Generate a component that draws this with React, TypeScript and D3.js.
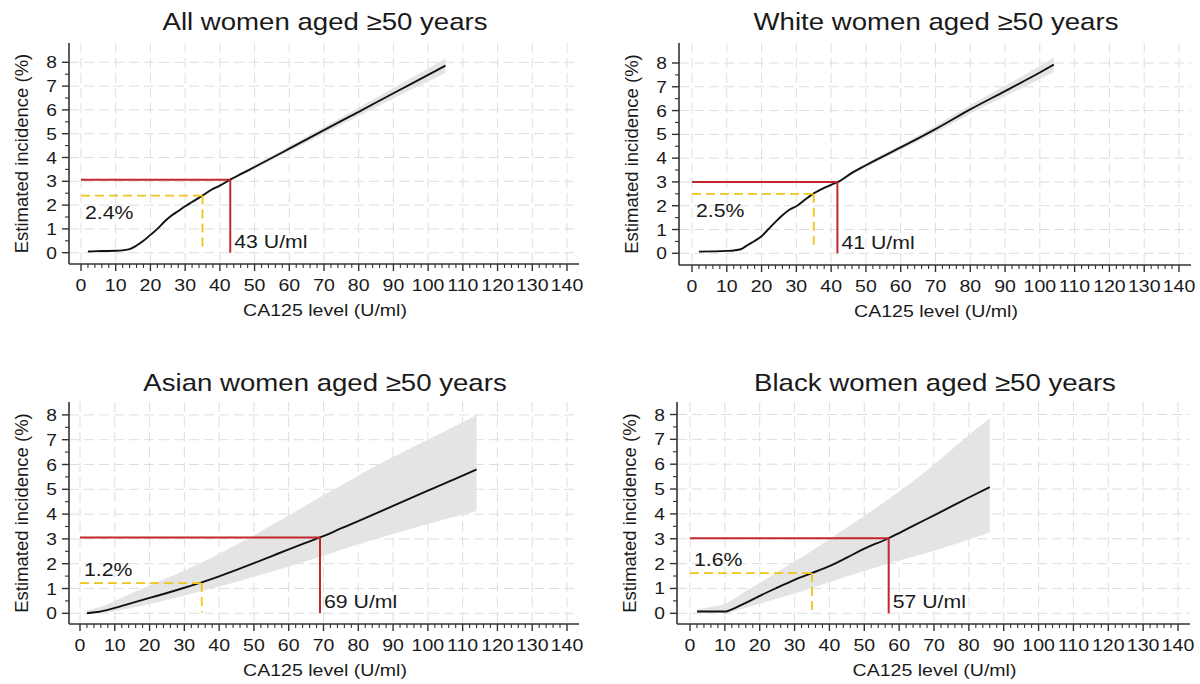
import React from 'react';
import * as d3 from 'd3';

// ---------- DATA ----------
const titles = [
  'All women aged ≥50 years',
  'White women aged ≥50 years',
  'Asian women aged ≥50 years',
  'Black women aged ≥50 years',
];
const xLabel = 'CA125 level (U/ml)';
const yLabel = 'Estimated incidence (%)';
const xTicks = [0, 10, 20, 30, 40, 50, 60, 70, 80, 90, 100, 110, 120, 130, 140];
const yTicks = [0, 1, 2, 3, 4, 5, 6, 7, 8];

// All women
const allX = [2, 6, 10, 12, 14, 16, 18, 20, 22, 24, 26, 28, 30, 32, 35, 38, 40, 43, 46, 50, 60, 70, 80, 90, 100, 105];
const allEst = [0.05, 0.07, 0.08, 0.1, 0.15, 0.3, 0.5, 0.75, 1.0, 1.3, 1.55, 1.75, 1.95, 2.13, 2.4, 2.68, 2.82, 3.07, 3.3, 3.6, 4.37, 5.15, 5.92, 6.7, 7.47, 7.86];
const allLower = [0.03, 0.05, 0.06, 0.08, 0.13, 0.28, 0.47, 0.71, 0.96, 1.26, 1.51, 1.71, 1.91, 2.09, 2.35, 2.63, 2.77, 3.01, 3.23, 3.52, 4.26, 5.01, 5.74, 6.48, 7.2, 7.55];
const allUpper = [0.07, 0.09, 0.1, 0.12, 0.17, 0.32, 0.53, 0.79, 1.04, 1.34, 1.59, 1.79, 1.99, 2.17, 2.45, 2.73, 2.87, 3.13, 3.37, 3.68, 4.48, 5.29, 6.1, 6.92, 7.74, 8.17];

// White women
const whiteX = [2, 6, 10, 12, 14, 16, 18, 20, 22, 24, 26, 28, 30, 32, 35, 38, 40, 42, 46, 50, 60, 70, 80, 90, 100, 104];
const whiteEst = [0.07, 0.08, 0.1, 0.12, 0.17, 0.35, 0.52, 0.72, 1.02, 1.32, 1.6, 1.83, 1.98, 2.2, 2.52, 2.75, 2.88, 3.0, 3.38, 3.7, 4.45, 5.22, 6.05, 6.82, 7.6, 7.93];
const whiteLower = [0.05, 0.06, 0.08, 0.1, 0.15, 0.33, 0.49, 0.68, 0.98, 1.28, 1.56, 1.79, 1.94, 2.15, 2.47, 2.7, 2.83, 2.94, 3.31, 3.62, 4.34, 5.08, 5.87, 6.6, 7.33, 7.62];
const whiteUpper = [0.09, 0.1, 0.12, 0.14, 0.19, 0.37, 0.55, 0.76, 1.06, 1.36, 1.64, 1.87, 2.02, 2.25, 2.57, 2.8, 2.93, 3.06, 3.45, 3.78, 4.56, 5.36, 6.23, 7.04, 7.87, 8.24];

// Asian women
const asianX = [2, 5, 10, 15, 20, 25, 30, 35, 40, 45, 50, 55, 60, 65, 69, 75, 80, 90, 100, 110, 114];
const asianEst = [0.0, 0.05, 0.22, 0.42, 0.62, 0.82, 1.03, 1.25, 1.49, 1.75, 2.02, 2.3, 2.58, 2.85, 3.06, 3.42, 3.72, 4.33, 4.95, 5.55, 5.8];
const asianLower = [0.0, 0.0, 0.08, 0.22, 0.38, 0.55, 0.72, 0.9, 1.08, 1.27, 1.47, 1.68, 1.88, 2.1, 2.27, 2.55, 2.78, 3.2, 3.6, 3.97, 4.13];
const asianUpper = [0.12, 0.22, 0.5, 0.82, 1.12, 1.42, 1.73, 2.05, 2.4, 2.77, 3.15, 3.55, 3.95, 4.35, 4.68, 5.15, 5.55, 6.3, 7.0, 7.7, 8.0];

// Black women
const blackX = [2, 6, 10, 13, 16, 20, 25, 30, 35, 40, 45, 50, 57, 60, 65, 70, 75, 80, 86];
const blackEst = [0.07, 0.07, 0.07, 0.22, 0.42, 0.7, 1.03, 1.35, 1.62, 1.9, 2.24, 2.6, 3.02, 3.23, 3.59, 3.94, 4.3, 4.66, 5.08];
const blackLower = [0.0, 0.0, 0.02, 0.1, 0.22, 0.38, 0.6, 0.8, 1.02, 1.25, 1.48, 1.7, 2.0, 2.12, 2.32, 2.52, 2.74, 2.97, 3.25];
const blackUpper = [0.15, 0.25, 0.38, 0.62, 0.9, 1.22, 1.65, 2.08, 2.52, 2.98, 3.45, 3.92, 4.6, 4.9, 5.42, 5.98, 6.58, 7.18, 7.85];

const seriesX = [allX, whiteX, asianX, blackX];
const seriesEst = [allEst, whiteEst, asianEst, blackEst];
const seriesLower = [allLower, whiteLower, asianLower, blackLower];
const seriesUpper = [allUpper, whiteUpper, asianUpper, blackUpper];

const thresholdX = [43, 41.8, 69, 57];
const thresholdY = [3.07, 3.0, 3.06, 3.02];
const thresholdLabels = ['43 U/ml', '41 U/ml', '69 U/ml', '57 U/ml'];
const refX = 35;
const refY = [2.4, 2.5, 1.22, 1.62];
const refBottom = [0.25, 0.25, 0.03, 0.0];
const refLabels = ['2.4%', '2.5%', '1.2%', '1.6%'];

// ---------- LAYOUT ----------
const layouts = [
  { axisX: 69, x0: 81, x1: 567, axisY: 264, y0: 252.7, y8: 62.3, top: 43, titleX: 325, titleY: 30, xlabY: 316, ylabX: 28, refAbove: false },
  { axisX: 679, x0: 692, x1: 1179, axisY: 265, y0: 253.3, y8: 63, top: 43, titleX: 936, titleY: 30, xlabY: 317, ylabX: 638, refAbove: false },
  { axisX: 69, x0: 80, x1: 567, axisY: 624, y0: 613.3, y8: 414.9, top: 402, titleX: 325, titleY: 391, xlabY: 676, ylabX: 28, refAbove: true },
  { axisX: 677, x0: 690, x1: 1178, axisY: 624, y0: 613.3, y8: 414.5, top: 402, titleX: 935, titleY: 391, xlabY: 676, ylabX: 636, refAbove: true },
];

const FONT = '"Liberation Sans", Arial, Helvetica, sans-serif';
const TXT = '#1a1a1a';
const RED = '#c3272e';
const YEL = '#f0c419';

const minorX = d3.range(0, 141, 2).filter((v) => v % 10 !== 0);
const minorY = d3.range(0.5, 8, 1);

function SText(props: { x: number; y: number; sx?: number; size: number; anchor?: string; children: any }) {
  const { x, y, sx = 1.15, size, anchor = 'start', children } = props;
  return (
    <text
      transform={`translate(${x},${y}) scale(${sx},1)`}
      fontSize={size}
      fontFamily={FONT}
      fill={TXT}
      textAnchor={anchor}
    >
      {children}
    </text>
  );
}

function Panel({ i }: { i: number }) {
  const L = layouts[i];
  const xs = d3.scaleLinear().domain([0, 140]).range([L.x0, L.x1]);
  const ys = d3.scaleLinear().domain([0, 8]).range([L.y0, L.y8]);
  const xsArr = seriesX[i];
  const est = seriesEst[i];
  const lo = seriesLower[i];
  const hi = seriesUpper[i];
  const idx = xsArr.map((_, k) => k);
  const area = d3
    .area<number>()
    .x((k) => xs(xsArr[k]))
    .y0((k) => ys(lo[k]))
    .y1((k) => ys(hi[k]))
    .curve(d3.curveMonotoneX);
  const line = d3
    .line<number>()
    .x((k) => xs(xsArr[k]))
    .y((k) => ys(est[k]))
    .curve(d3.curveMonotoneX);
  const xEnd = L.x1 + 12;
  return (
    <g>
      {xTicks.map((t) => (
        <line key={'gx' + t} x1={xs(t)} x2={xs(t)} y1={L.top} y2={L.axisY} stroke="#dedede" strokeWidth={1} strokeDasharray="10 5" />
      ))}
      {yTicks.map((t) => (
        <line key={'gy' + t} x1={L.axisX} x2={xEnd} y1={ys(t)} y2={ys(t)} stroke="#dedede" strokeWidth={1} strokeDasharray="10 5" />
      ))}
      <path d={area(idx) || ''} fill="#e4e4e4" stroke="none" />
      <path d={line(idx) || ''} fill="none" stroke="#111" strokeWidth={1.9} />
      <line x1={xs(0)} x2={xs(thresholdX[i])} y1={ys(thresholdY[i])} y2={ys(thresholdY[i])} stroke={RED} strokeWidth={2} />
      <line x1={xs(thresholdX[i])} x2={xs(thresholdX[i])} y1={ys(thresholdY[i])} y2={ys(0)} stroke={RED} strokeWidth={2} />
      <line x1={xs(0)} x2={xs(refX)} y1={ys(refY[i])} y2={ys(refY[i])} stroke={YEL} strokeWidth={1.8} strokeDasharray="9 5" />
      <line x1={xs(refX)} x2={xs(refX)} y1={ys(refY[i])} y2={ys(refBottom[i])} stroke={YEL} strokeWidth={1.8} strokeDasharray="9 5" />
      <SText x={xs(0) + 4} y={L.refAbove ? ys(refY[i]) - 7 : ys(refY[i]) + 23} size={18.5}>
        {refLabels[i]}
      </SText>
      <SText x={xs(thresholdX[i]) + 4} y={ys(0.2)} size={18.5}>
        {thresholdLabels[i]}
      </SText>
      <line x1={L.axisX} x2={L.axisX} y1={L.top} y2={L.axisY} stroke="#333" strokeWidth={1.6} />
      <line x1={L.axisX} x2={xEnd} y1={L.axisY} y2={L.axisY} stroke="#333" strokeWidth={1.6} />
      {xTicks.map((t) => (
        <g key={'xt' + t}>
          <line x1={xs(t)} x2={xs(t)} y1={L.axisY} y2={L.axisY + 7} stroke="#333" strokeWidth={1.4} />
          <SText x={xs(t)} y={L.axisY + 27} size={16} sx={1.22} anchor="middle">
            {t}
          </SText>
        </g>
      ))}
      {minorX.map((t) => (
        <line key={'xm' + t} x1={xs(t)} x2={xs(t)} y1={L.axisY} y2={L.axisY + 4} stroke="#333" strokeWidth={1.1} />
      ))}
      {yTicks.map((t) => (
        <g key={'yt' + t}>
          <line x1={L.axisX - 7} x2={L.axisX} y1={ys(t)} y2={ys(t)} stroke="#333" strokeWidth={1.4} />
          <SText x={L.axisX - 12} y={ys(t) + 6} size={16} sx={1.2} anchor="end">
            {t}
          </SText>
        </g>
      ))}
      {minorY.map((t) => (
        <line key={'ym' + t} x1={L.axisX - 4} x2={L.axisX} y1={ys(t)} y2={ys(t)} stroke="#333" strokeWidth={1.1} />
      ))}
      <SText x={L.titleX} y={L.titleY} size={24} anchor="middle">
        {titles[i]}
      </SText>
      <SText x={(L.axisX + xEnd) / 2 + 1} y={L.xlabY} size={17} anchor="middle">
        {xLabel}
      </SText>
      <text
        transform={`translate(${L.ylabX},${(L.top + L.axisY) / 2}) rotate(-90)`}
        fontSize={18.5}
        fontFamily={FONT}
        fill={TXT}
        textAnchor="middle"
      >
        {yLabel}
      </text>
    </g>
  );
}

export default function App() {
  return (
    <svg
      width={1200}
      height={684}
      viewBox="0 0 1200 684"
      style={{ position: 'absolute', left: 0, top: 0, background: '#fff' }}
    >
      <rect x={0} y={0} width={1200} height={684} fill="#fff" />
      {[0, 1, 2, 3].map((i) => (
        <Panel key={i} i={i} />
      ))}
    </svg>
  );
}
